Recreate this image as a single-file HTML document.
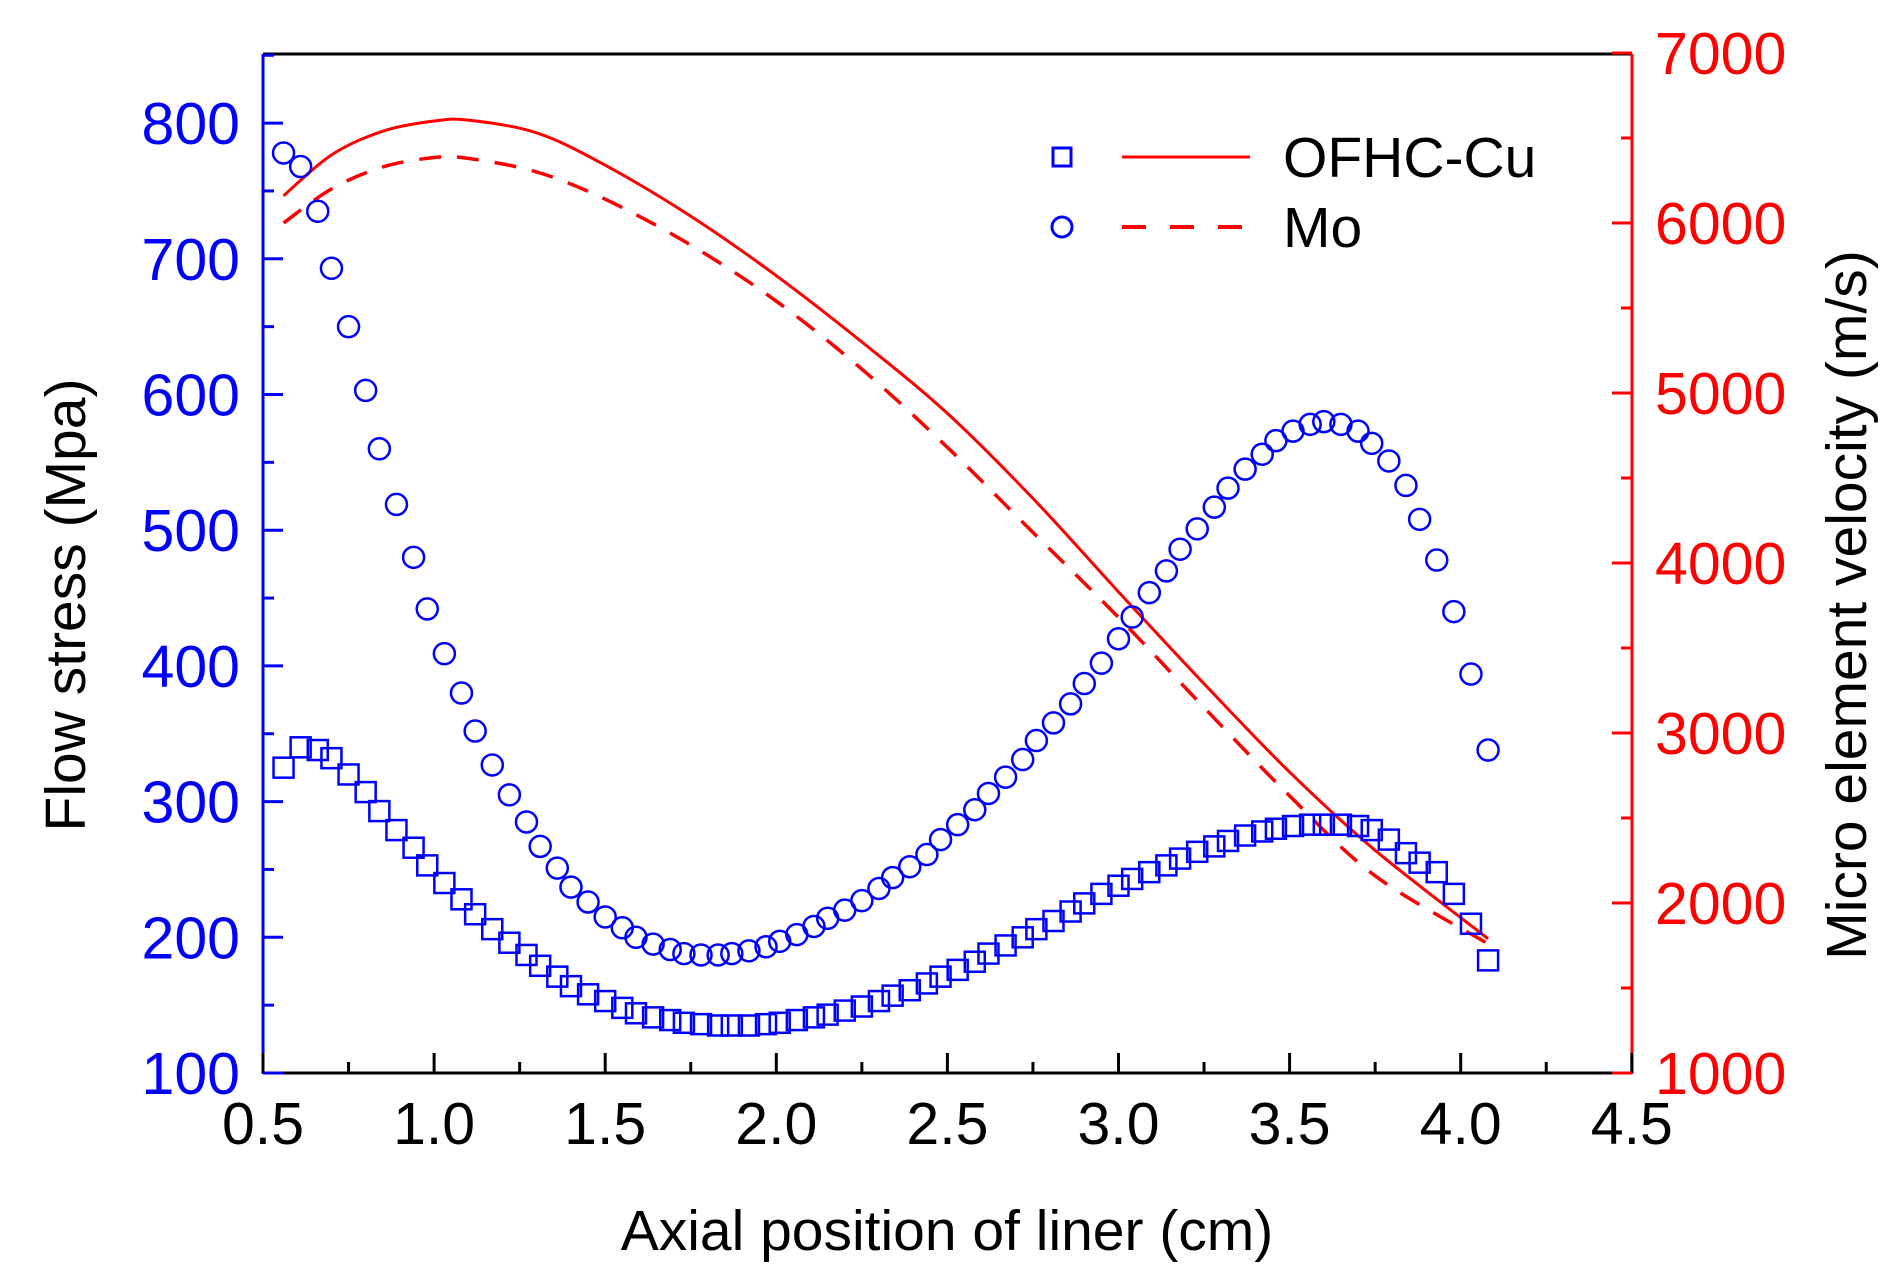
<!DOCTYPE html>
<html><head><meta charset="utf-8"><style>
html,body{margin:0;padding:0;background:#fff;}
svg{display:block;font-family:"Liberation Sans",sans-serif;}
</style></head><body>
<svg id="s" width="1901" height="1288" viewBox="0 0 1901 1288" xmlns="http://www.w3.org/2000/svg">
<rect width="1901" height="1288" fill="#fff"/>
<g id="g"></g>
<line x1="263" y1="54" x2="1632" y2="54" stroke="#000" stroke-width="3"/>
<line x1="263" y1="1073" x2="1632" y2="1073" stroke="#000" stroke-width="3"/>
<line x1="263" y1="54" x2="263" y2="1074" stroke="#00f" stroke-width="3"/>
<line x1="1632" y1="54" x2="1632" y2="1074" stroke="#f00" stroke-width="3"/>
<g id="ax"></g>
<rect x="1053" y="148" width="18" height="18" fill="none" stroke="#00f" stroke-width="3"/>
<circle cx="1062" cy="227" r="10" fill="none" stroke="#00f" stroke-width="3"/>
<line x1="1122" y1="157" x2="1250" y2="157" stroke="#f00" stroke-width="3"/>
<line x1="1122" y1="227" x2="1250" y2="227" stroke="#f00" stroke-width="4" stroke-dasharray="24,24"/>
<text x="1283" y="177" font-size="57" fill="#000">OFHC-Cu</text>
<text x="1283" y="247" font-size="57" fill="#000">Mo</text>
<text x="947" y="1250" font-size="57" text-anchor="middle" fill="#000">Axial position of liner (cm)</text>
<text transform="translate(85,605) rotate(-90)" font-size="57" text-anchor="middle" fill="#000">Flow stress (Mpa)</text>
<text transform="translate(1866,605) rotate(-90)" font-size="57" text-anchor="middle" fill="#000">Micro element velocity (m/s)</text>
</svg>
<script>
var NS="http://www.w3.org/2000/svg";
function X(v){return 263+(v-0.5)*342.2;}
function YL(s){return 1073-(s-100)*1.357;}
function YR(v){return 1073-(v-1000)*0.17;}
function el(p,t,a,txt){var e=document.createElementNS(NS,t);for(var k in a)e.setAttribute(k,a[k]);if(txt!==undefined)e.textContent=txt;p.appendChild(e);return e;}
var g=document.getElementById('g'),ax=document.getElementById('ax');
for(var i=0;i<=16;i++){var v=0.5+i*0.25,x=X(v),L=(i%2==0)?20:11;
 el(ax,'line',{x1:x,y1:1073,x2:x,y2:1073-L,stroke:'#000','stroke-width':3});
 if(i%2==0)el(ax,'text',{x:x,y:1144,'font-size':59,'text-anchor':'middle',fill:'#000'},v.toFixed(1));}
for(var s=100;s<=850;s+=50){var y=YL(s),L=(s%100==0)?20:11;
 el(ax,'line',{x1:263,y1:y,x2:263+L,y2:y,stroke:'#00f','stroke-width':3});
 if(s%100==0)el(ax,'text',{x:240,y:y+21,'font-size':59,'text-anchor':'end',fill:'#00f'},s);}
for(var v=1000;v<=7000;v+=500){var y=YR(v),L=(v%1000==0)?20:11;
 el(ax,'line',{x1:1632,y1:y,x2:1632-L,y2:y,stroke:'#f00','stroke-width':3});
 if(v%1000==0)el(ax,'text',{x:1655,y:y+21,'font-size':59,fill:'#f00'},v);}
var xs=[0.56,0.61,0.66,0.70,0.75,0.80,0.84,0.89,0.94,0.98,1.03,1.08,1.12,1.17,1.22,1.27,1.31,1.36,1.40,1.45,1.50,1.55,1.59,1.64,1.69,1.73,1.78,1.83,1.87,1.92,1.97,2.01,2.06,2.11,2.15,2.20,2.25,2.30,2.34,2.39,2.44,2.48,2.53,2.58,2.62,2.67,2.72,2.76,2.81,2.86,2.90,2.95,3.00,3.04,3.09,3.14,3.18,3.23,3.28,3.32,3.37,3.42,3.46,3.51,3.56,3.60,3.65,3.70,3.74,3.79,3.84,3.88,3.93,3.98,4.03,4.08];
var circ=[778,768,735,693,650,603,560,519,480,442,409,380,352,327,305,285,267,251,237,226,215,207,200,195,191,188,187,187,188,190,193,197,202,208,214,220,227,236,244,252,261,272,283,294,306,318,331,345,358,372,387,402,420,436,454,470,486,501,517,531,545,556,566,573,578,580,578,573,564,551,533,508,478,440,394,338];
var sq=[325,340,338,332,320,307,293,279,266,253,240,228,217,206,196,187,179,171,164,158,153,148,144,141,139,137,136,135,135,135,136,137,139,141,143,146,149,153,157,161,166,171,176,182,188,194,200,206,212,219,225,232,
238,243,248,253,258,263,267,271,275,278,280,282,283,283,283,282,279,272,262,255,248,232,210,183];
function smooth(pts,f){var P=pts.map(function(p){return [X(p[0]),f(p[1])];});var d='M'+P[0][0]+','+P[0][1];
 for(var i=0;i<P.length-1;i++){var p0=P[i-1]||P[i],p1=P[i],p2=P[i+1],p3=P[i+2]||p2;
  var c1=[p1[0]+(p2[0]-p0[0])/6,p1[1]+(p2[1]-p0[1])/6],c2=[p2[0]-(p3[0]-p1[0])/6,p2[1]-(p3[1]-p1[1])/6];
  d+='C'+c1[0].toFixed(1)+','+c1[1].toFixed(1)+' '+c2[0].toFixed(1)+','+c2[1].toFixed(1)+' '+p2[0].toFixed(1)+','+p2[1].toFixed(1);}
 return d;}
var solid=[[0.56,6160],[0.7,6400],[0.85,6540],[1.0,6600],[1.1,6605],[1.3,6530],[1.5,6340],[1.75,6040],[2.0,5690],[2.25,5300],[2.5,4880],[2.75,4380],[3.0,3830],[3.25,3290],[3.5,2770],[3.75,2310],[4.08,1790]];
var dash=[[0.56,6000],[0.7,6200],[0.85,6330],[1.0,6385],[1.1,6380],[1.3,6300],[1.5,6140],[1.75,5870],[2.0,5540],[2.25,5140],[2.5,4680],[2.75,4180],[3.0,3680],[3.25,3150],[3.5,2630],[3.75,2160],[4.08,1760]];
el(g,'path',{d:smooth(solid,YR),fill:'none',stroke:'#f00','stroke-width':3});
el(g,'path',{d:smooth(dash,YR),fill:'none',stroke:'#f00','stroke-width':3.5,'stroke-dasharray':'22,16'});
xs.forEach(function(x,i){
 el(g,'circle',{cx:X(x),cy:YL(circ[i]),r:10.5,fill:'none',stroke:'#00f','stroke-width':2.5});
 var cx=X(x),cy=YL(sq[i]);
 el(g,'rect',{x:cx-10,y:cy-10,width:20,height:20,fill:'none',stroke:'#00f','stroke-width':2.5});
});
</script>
</body></html>
